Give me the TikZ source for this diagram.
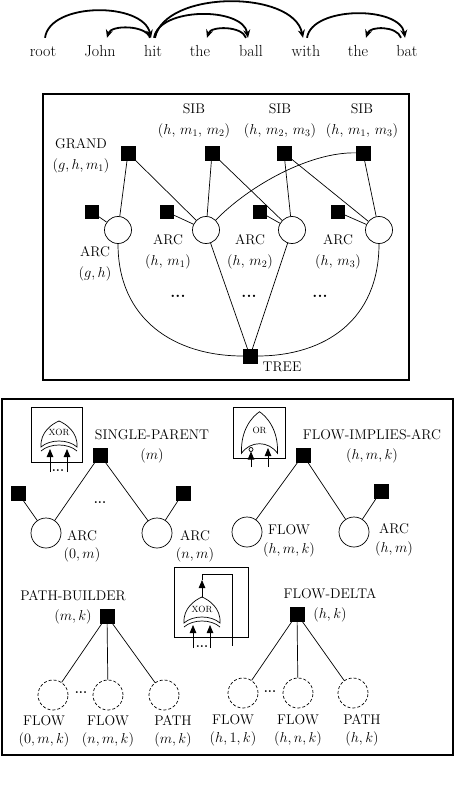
\documentclass[tikz,border=0pt]{standalone}
\usepackage{amsmath}
\usepackage{amssymb}
\usepackage{tikz}
\usetikzlibrary{arrows.meta}

\tikzset{
    word/.style={font=\fontsize{16}{18}\selectfont, text height=11pt, text depth=3pt, inner xsep=0pt, inner ysep=8pt, anchor=base},
    deparc/.style={draw=black, line width=1.8pt, -{Stealth[length=8pt,width=7pt]}},
    factor/.style={draw=black, fill=black, rectangle, minimum size=14pt, inner sep=0pt},
    var/.style={draw=black, line width=0.7pt, circle, minimum size=27pt, inner sep=0pt},
    dvar/.style={var, minimum size=30pt, densely dashed},
    edge/.style={draw=black, line width=0.7pt},
    lbl/.style={font=\fontsize{14}{21}\selectfont, align=center, inner sep=0pt},
    lbls/.style={font=\fontsize{14}{18}\selectfont, align=center, inner sep=0pt},
    dots/.style={font=\fontsize{16}{16}\bfseries, inner sep=0pt},
    sdots/.style={font=\fontsize{13}{13}\bfseries, inner sep=0pt},
    frame/.style={draw=black, line width=1.4pt},
    gatebox/.style={draw=black, line width=0.7pt},
    gatein/.style={draw=black, line width=0.8pt, -{Triangle[length=8pt,width=6.5pt]}},
    gatetext/.style={font=\fontsize{9}{9}\selectfont, inner sep=0pt},
    pics/orbody/.style={code={
        \draw[line width=0.7pt] (-18,13) .. controls (-19,-2) and (-7,-10) .. (0,-13)
            .. controls (7,-10) and (19,-2) .. (18,13)
            .. controls (9,5) and (-9,5) .. cycle;
    }},
    pics/xorbody/.style={code={
        \pic {orbody};
        \draw[line width=0.7pt] (-18,17) .. controls (-9,9) and (9,9) .. (18,17);
    }},
}

\begin{document}
\begin{tikzpicture}[x=1pt, y=-1pt]
\useasboundingbox (0,0) rectangle (474,786);

% sentence with dependency arcs
\node[word] (root) at (43,57) {root};
\node[word] (john) at (100,57) {John};
\node[word] (hit) at (153,57) {hit};
\node[word] (the1) at (200,57) {the};
\node[word] (ball) at (251,57) {ball};
\node[word] (with) at (306,57) {with};
\node[word] (the2) at (358,57) {the};
\node[word] (bat) at (407,57) {bat};
\draw[deparc] ([xshift=2pt]root.north) .. controls +(5,-36) and +(-8,-36) .. ([xshift=-2pt]hit.north);
\draw[deparc] ([xshift=-3pt]hit.north) .. controls +(-4,-13) and +(4,-13) .. ([xshift=7pt]john.north);
\draw[deparc] ([xshift=1pt]hit.north) .. controls +(5,-31) and +(-5,-31) .. ([xshift=-3pt]ball.north);
\draw[deparc] ([xshift=-5pt]ball.north) .. controls +(-4,-12) and +(4,-12) .. ([xshift=7pt]the1.north);
\draw[deparc] ([xshift=2pt]hit.north) .. controls +(10,-48) and +(-10,-48) .. ([xshift=-3pt]with.north);
\draw[deparc] ([xshift=1pt]with.north) .. controls +(5,-32) and +(-5,-32) .. ([xshift=-2pt]bat.north);
\draw[deparc] ([xshift=-6pt]bat.north) .. controls +(-4,-12) and +(4,-12) .. ([xshift=8pt]the2.north);

% factor graph
\draw[frame] (43,94) rectangle (409,380);
\node[factor] (grand) at (128,153) {};
\node[factor] (sib1) at (212,153) {};
\node[factor] (sib2) at (284,153) {};
\node[factor] (sib3) at (363,153) {};
\node[factor, minimum size=13pt] (u1) at (92,212) {};
\node[factor, minimum size=13pt] (u2) at (167,212) {};
\node[factor, minimum size=13pt] (u3) at (260,212) {};
\node[factor, minimum size=13pt] (u4) at (338,212) {};
\node[var] (a1) at (118,230) {};
\node[var] (a2) at (206,230) {};
\node[var] (a3) at (292,230) {};
\node[var] (a4) at (379,230) {};
\node[factor] (tree) at (250,356) {};

\node[lbl] (grandlbl) at (81,156) {GRAND\\$(g,h,m_1)$};
\node[lbl] (sib1lbl) at (194,121) {SIB\\$(h,\,m_1,\,m_2)$};
\node[lbl] (sib2lbl) at (280,121) {SIB\\$(h,\,m_2,\,m_3)$};
\node[lbl] (sib3lbl) at (362,121) {SIB\\$(h,\,m_1,\,m_3)$};
\node[lbl] (a1lbl) at (95,264) {ARC\\$(g,h)$};
\node[lbl] (a2lbl) at (168,252) {ARC\\$(h,\,m_1)$};
\node[lbl] (a3lbl) at (250,252) {ARC\\$(h,\,m_2)$};
\node[lbl] (a4lbl) at (338,252) {ARC\\$(h,\,m_3)$};
\node[lbl] (treelbl) at (282,367) {TREE};
\node[dots] (dots1) at (178,296) {...};
\node[dots] (dots2) at (249,296) {...};
\node[dots] (dots3) at (320,296) {...};

\draw[edge] (grand) -- (a1);
\draw[edge] (grand) -- (a2);
\draw[edge] (sib1) -- (a2);
\draw[edge] (sib1) -- (a3);
\draw[edge] (sib2) -- (a3);
\draw[edge] (sib2) -- (a4);
\draw[edge] (sib3) -- (a4);
\draw[edge] (a2) .. controls (250,185) and (310,152) .. (sib3);
\draw[edge] (u1) -- (a1);
\draw[edge] (u2) -- (a2);
\draw[edge] (u3) -- (a3);
\draw[edge] (u4) -- (a4);
\draw[edge] (a1) .. controls (118,320) and (175,356) .. (tree);
\draw[edge] (a2) -- (tree);
\draw[edge] (a3) -- (tree);
\draw[edge] (a4) .. controls (379,320) and (325,356) .. (tree);

% constraint factors
\draw[frame] (2,399) rectangle (453,755);

% single-parent
\draw[gatebox] (31,407) rectangle (82,462);
\pic at (59,434) {xorbody};
\node[gatetext] (xor1) at (59,432) {XOR};
\draw[gatein] (50,472) -- (50,449);
\draw[gatein] (67,472) -- (67,449);
\node[sdots] (gdots1) at (58,471) {...};

\node[factor] (sp) at (100,455) {};
\node[factor] (s0) at (18,493) {};
\node[factor] (sn) at (183,493) {};
\node[var, minimum size=30pt] (c0) at (46,533) {};
\node[var, minimum size=30pt] (cn) at (157,533) {};
\node[lbl, font=\fontsize{14}{20}\selectfont] (splbl) at (152,446) {SINGLE-PARENT\\$(m)$};
\node[lbl, font=\fontsize{14}{18}\selectfont] (c0lbl) at (82,546) {ARC\\$(0,m)$};
\node[lbl, font=\fontsize{14}{18}\selectfont] (cnlbl) at (195,546) {ARC\\$(n,m)$};
\node[sdots] (spdots) at (100,503) {...};
\draw[edge] (sp) -- (c0);
\draw[edge] (sp) -- (cn);
\draw[edge] (s0) -- (c0);
\draw[edge] (sn) -- (cn);

% flow-implies-arc
\draw[gatebox] (233,407) rectangle (285,458);
\pic[yscale=1.6] at (259.5,432.5) {orbody};
\node[gatetext] (or1) at (259.5,430) {OR};
\draw[edge] (251,449.5) circle (2pt);
\draw[gatein] (251,467) -- (251,451.5);
\draw[gatein] (268,467) -- (268,448);

\node[factor] (fia) at (303,455) {};
\node[factor] (fiau) at (381,491) {};
\node[var, minimum size=30pt] (fl) at (247,532) {};
\node[var, minimum size=30pt] (ar) at (354,532) {};
\node[lbl, font=\fontsize{14}{20}\selectfont] (fialbl) at (372,446) {FLOW-IMPLIES-ARC\\$(h,m,k)$};
\node[lbl, font=\fontsize{14}{19}\selectfont] (fllbl) at (289,541) {FLOW\\$(h,m,k)$};
\node[lbl, font=\fontsize{14}{19}\selectfont] (arlbl) at (394,540) {ARC\\$(h,m)$};
\draw[edge] (fia) -- (fl);
\draw[edge] (fia) -- (ar);
\draw[edge] (fiau) -- (ar);

% xor with feedback
\draw[gatebox] (174,567) rectangle (248,637);
\pic at (202,610) {xorbody};
\node[gatetext] (xor2) at (202,609) {XOR};
\draw[gatein] (202,597) -- (202,580);
\draw[edge] (202,580) -- (202,574) -- (232,574) -- (232,646);
\draw[gatein] (193,648) -- (193,625);
\draw[gatein] (210,648) -- (210,625);
\node[sdots] (gdots2) at (202,647) {...};

% path-builder
\node[factor] (pb) at (107,616) {};
\node[dvar] (f0) at (53,695) {};
\node[dvar] (fn) at (108,695) {};
\node[dvar] (pp) at (164,695) {};
\node[lbl, font=\fontsize{14}{20}\selectfont] (pblbl) at (73,607) {PATH-BUILDER\\$(m,k)$};
\node[lbls] (f0lbl) at (44,731) {FLOW\\$(0,m,k)$};
\node[lbls] (fnlbl) at (108,731) {FLOW\\$(n,m,k)$};
\node[lbls] (pplbl) at (173,731) {PATH\\$(m,k)$};
\node[sdots] (pbdots) at (81,693) {...};
\draw[edge] (pb) -- (f0);
\draw[edge] (pb) -- (fn);
\draw[edge] (pb) -- (pp);

% flow-delta
\node[factor] (fd) at (297,614) {};
\node[dvar] (g1) at (243,693) {};
\node[dvar] (gn) at (298,693) {};
\node[dvar] (gp) at (353,693) {};
\node[lbl, font=\fontsize{14}{20}\selectfont] (fdlbl) at (330,605) {FLOW-DELTA\\$(h,k)$};
\node[lbls] (g1lbl) at (233,730) {FLOW\\$(h,1,k)$};
\node[lbls] (gnlbl) at (298,730) {FLOW\\$(h,n,k)$};
\node[lbls] (gplbl) at (362,730) {PATH\\$(h,k)$};
\node[sdots] (fddots) at (270,692) {...};
\draw[edge] (fd) -- (g1);
\draw[edge] (fd) -- (gn);
\draw[edge] (fd) -- (gp);
\end{tikzpicture}
\end{document}
